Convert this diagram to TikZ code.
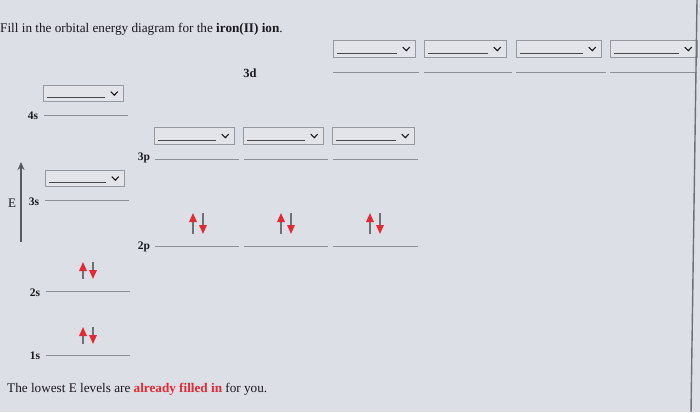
\documentclass[tikz,border=0pt]{standalone}
\usepackage{fontspec}
\setmainfont{Liberation Serif}
\usetikzlibrary{arrows.meta}
\definecolor{bgc}{RGB}{220,223,230}
\definecolor{linec}{RGB}{140,144,152}
\definecolor{boxfill}{RGB}{226,228,233}
\definecolor{boxdraw}{RGB}{150,153,160}
\definecolor{redc}{RGB}{230,40,50}
\definecolor{shaft}{RGB}{110,112,118}
\definecolor{textc}{RGB}{25,25,30}
\tikzset{
  level/.style={draw=linec, line width=0.9pt},
  ddstyle/.style={draw=boxdraw, fill=boxfill, line width=0.8pt, inner sep=0pt, anchor=north west},
  ddline/.style={draw=textc!80, line width=0.9pt},
  chev/.style={draw=textc, line width=1.1pt},
  lbl/.style={font=\fontsize{11.5}{13}\selectfont\bfseries, text=textc, inner sep=0pt},
  upspin/.style={draw=shaft, line width=1.5pt, -{Triangle[length=9pt,width=7.5pt,fill=redc,color=redc]}},
  txt/.style={font=\fontsize{13.2}{15}\selectfont, text=textc, inner sep=0pt, anchor=base west}
}
\newcommand{\ddbox}[5]{%
  \node[ddstyle, minimum width={(#4-#2)*1pt}, minimum height={(#5-#3)*1pt}] (#1) at (#2,#3) {};
  \draw[ddline] ([xshift=4pt,yshift=4pt]#1.south west) -- ([xshift=-19pt,yshift=4pt]#1.south east);
  \draw[chev] ([xshift=-13pt,yshift=1.8pt]#1.east) -- ([xshift=-9.5pt,yshift=-1.8pt]#1.east) -- ([xshift=-6pt,yshift=1.8pt]#1.east);
}
\newcommand{\spinpair}[4]{% name, xup, ytop, ybot
  \coordinate (#1u1) at (#2,#4); \coordinate (#1u2) at (#2,#3);
  \coordinate (#1d1) at (#2+10,#3); \coordinate (#1d2) at (#2+10,#4);
  \draw[upspin] (#1u1) -- (#1u2);
  \draw[upspin] (#1d1) -- (#1d2);
}
\begin{document}
\begin{tikzpicture}[x=1pt,y=-1pt]
\fill[bgc] (0,0) rectangle (700,412);
\useasboundingbox (0,0) rectangle (700,412);

% title
\node[txt] (title) at (0,33) {Fill in the orbital energy diagram for the \textbf{iron(II) ion}.};

% 3d
\ddbox{dda}{333}{40}{415}{57}
\ddbox{ddb}{424}{40}{506}{57}
\ddbox{ddc}{516}{40}{601}{57}
\ddbox{ddd}{610}{40}{697}{57}
\draw[level] (333,72) -- (419,72);
\draw[level] (424,72) -- (512,72);
\draw[level] (516,72) -- (606,72);
\draw[level] (610,72) -- (697,72);
\node[lbl, font=\fontsize{12.5}{14}\selectfont\bfseries] (l3d) at (250,73) {3d};

% 4s
\ddbox{dd4s}{43}{85}{123}{101}
\draw[level] (44,115) -- (128,115);
\node[lbl] (l4s) at (33,116) {4s};

% 3p
\ddbox{dd3pa}{154}{127}{234}{144}
\ddbox{dd3pb}{243}{127}{323}{144}
\ddbox{dd3pc}{332}{127}{414}{144}
\draw[level] (155,159) -- (239,159);
\draw[level] (244,159) -- (328,159);
\draw[level] (333,159) -- (418,159);
\node[lbl] (l3p) at (144,158) {3p};

% 3s
\ddbox{dd3s}{45}{170}{124}{186}
\draw[level] (45,200) -- (129,200);
\node[lbl] (l3s) at (34,202) {3s};

% E axis
\coordinate (ebot) at (21,242);
\coordinate (etop) at (21,162);
\draw[draw=shaft!80!black, line width=1.4pt, -{Stealth[length=8pt,width=7pt]}] (ebot) -- (etop);
\node[font=\fontsize{13}{15}\selectfont, text=textc, inner sep=0pt] (lE) at (12,203) {E};

% 2p
\draw[level] (155,246) -- (239,246);
\draw[level] (244,246) -- (328,246);
\draw[level] (333,246) -- (418,246);
\node[lbl] (l2p) at (144,247) {2p};
\spinpair{pa}{193}{213}{234}
\spinpair{pb}{281}{213}{234}
\spinpair{pc}{370}{213}{234}

% 2s
\draw[level] (46,291) -- (130,291);
\node[lbl] (l2s) at (35,293) {2s};
\spinpair{sa}{83}{262}{279}

% 1s
\draw[level] (46,355) -- (130,355);
\node[lbl] (l1s) at (35,356) {1s};
\spinpair{sb}{83}{327}{344}

% bottom text
\node[txt] (note) at (7,392) {The lowest E levels are \textcolor{redc}{\textbf{already filled in}} for you.};

% right edge
\coordinate (rt) at (697,0);
\coordinate (rb) at (691,412);
\draw[draw=shaft, line width=1.4pt] (rt) -- (rb);
\end{tikzpicture}
\end{document}
